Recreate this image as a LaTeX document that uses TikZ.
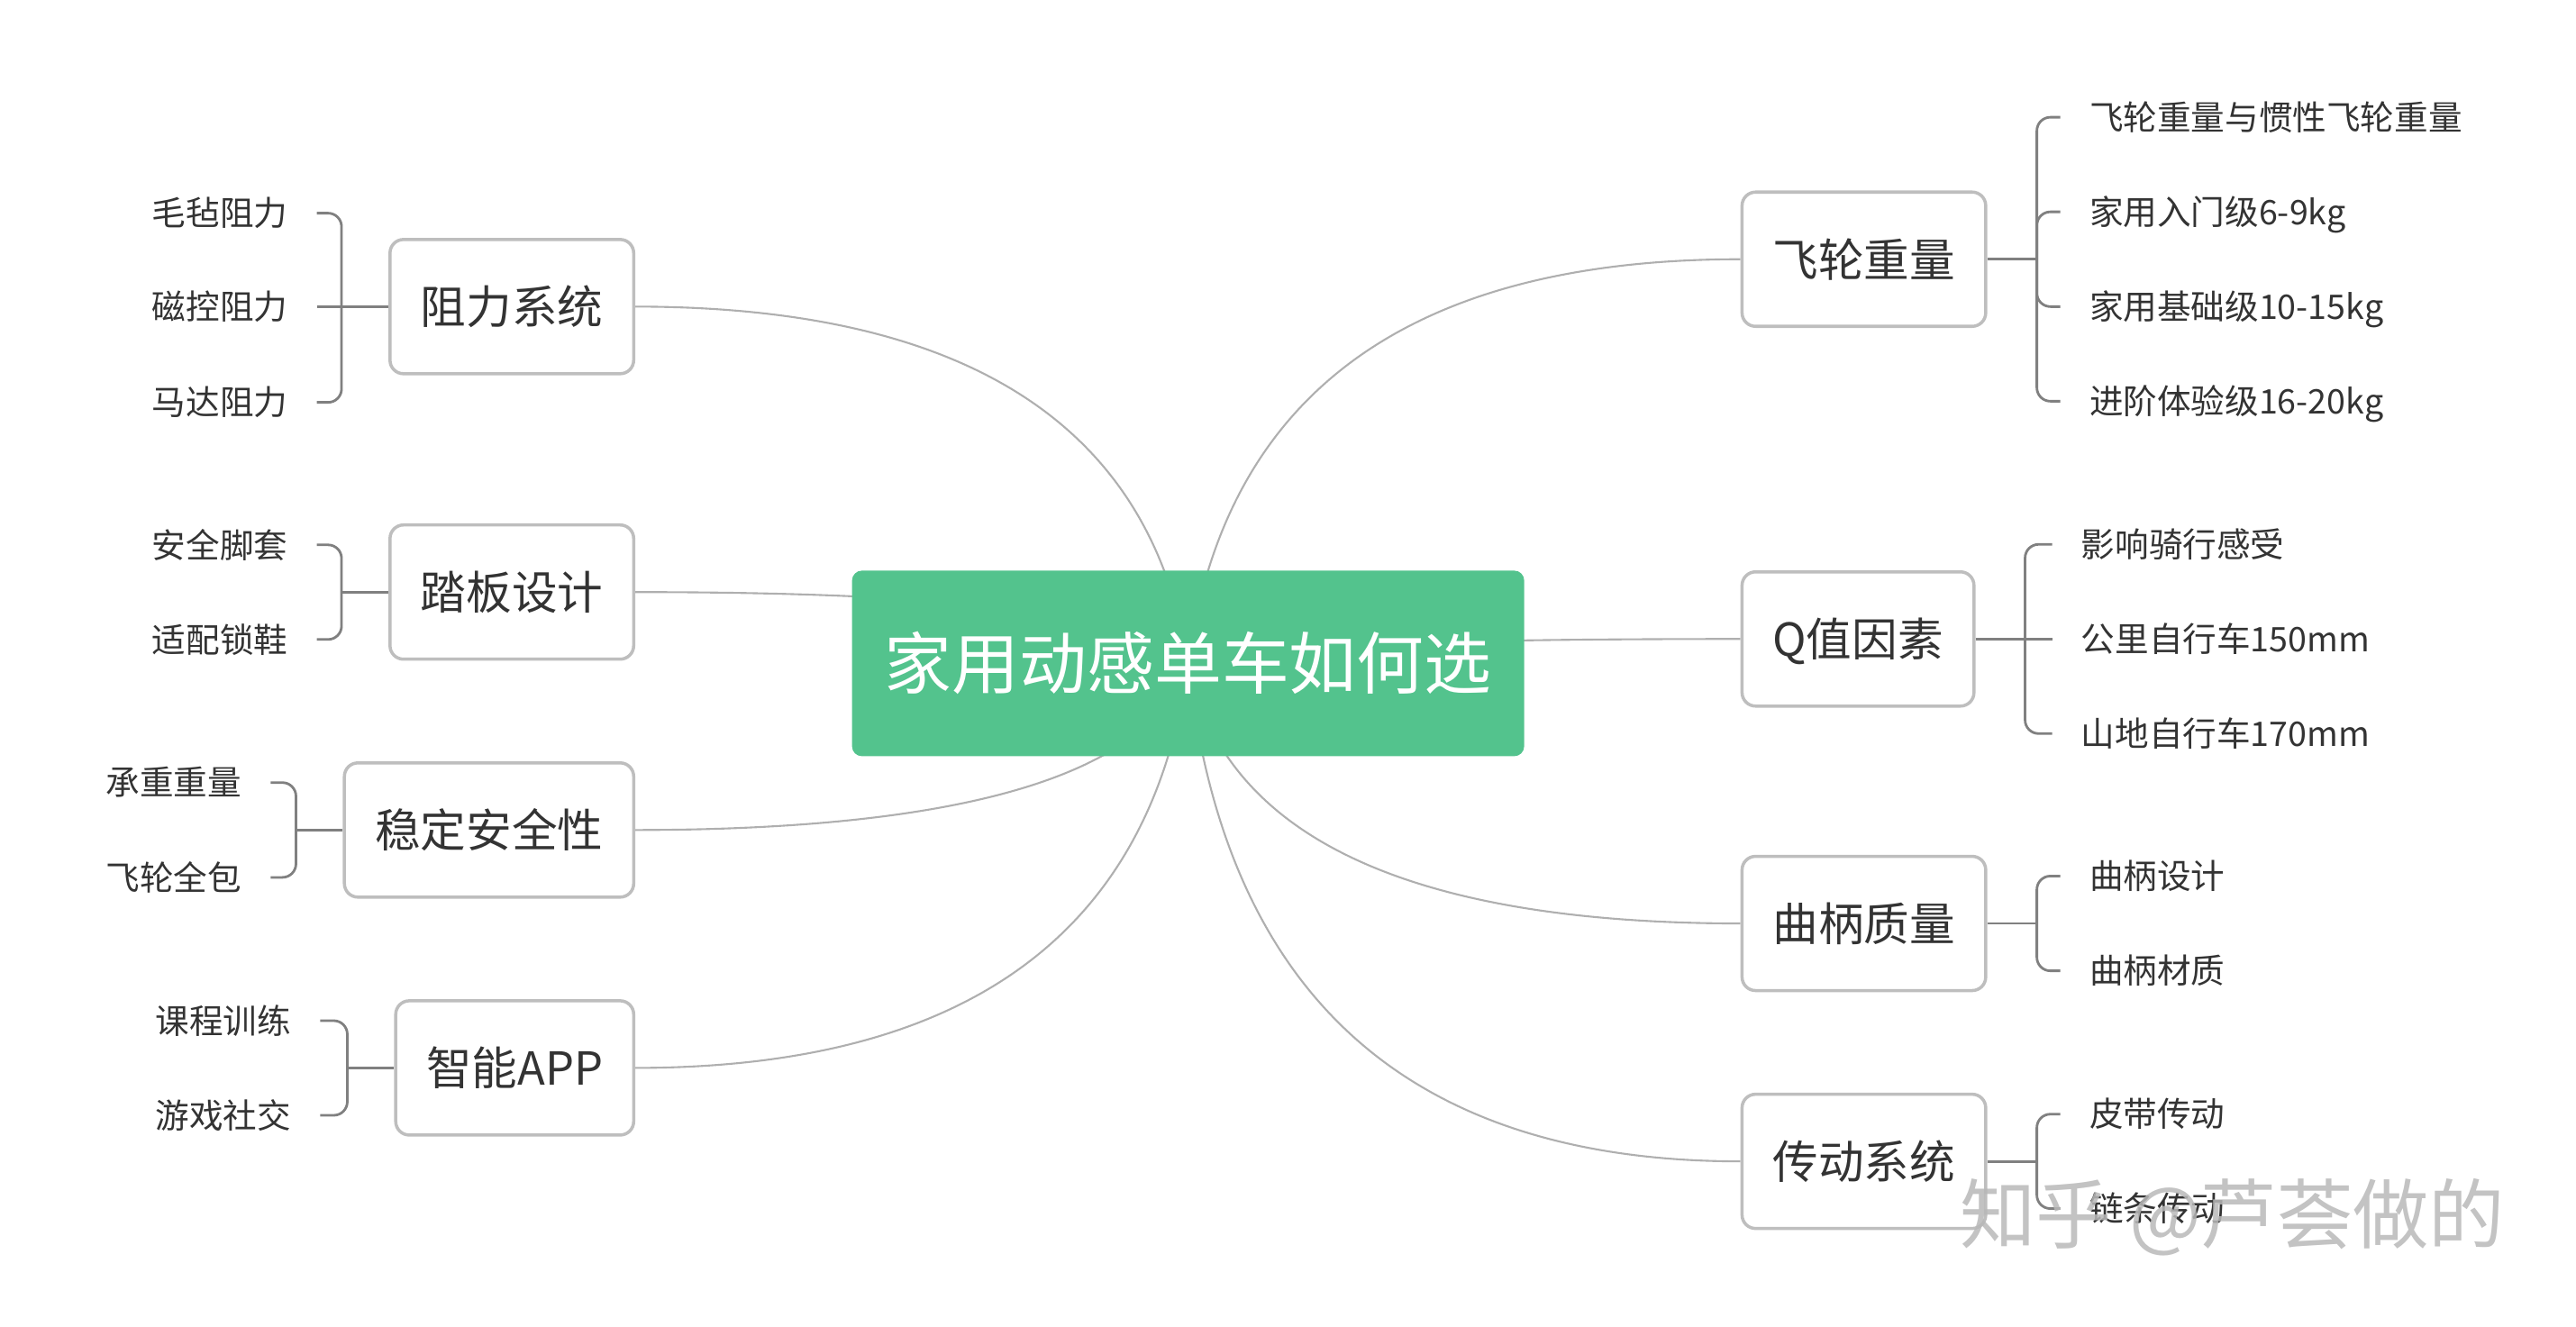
\documentclass[tikz,border=0pt]{standalone}
\usepackage{fontspec}
\setmainfont{Noto Sans CJK SC}
\usetikzlibrary{calc,backgrounds}
\definecolor{hubgreen}{RGB}{83,195,141}
\definecolor{boxgray}{RGB}{190,190,190}
\definecolor{linkgray}{RGB}{175,175,175}
\definecolor{bracegray}{RGB}{128,128,128}
\definecolor{textgray}{RGB}{51,51,51}
\tikzset{
  hub/.style={fill=hubgreen, rounded corners=1.1mm, text=white,
    font=\fontsize{21.3}{24}\selectfont, text height=18.7pt, text depth=2.6pt,
    minimum width=74.6mm, minimum height=20.6mm},
  topic/.style={draw=boxgray, line width=1pt, rounded corners=1.5mm, fill=white,
    text=textgray, font=\fontsize{14.4}{17}\selectfont, text height=12.7pt,
    text depth=1.7pt, minimum height=14.9mm, inner xsep=3.4mm},
  leaf/.style={inner sep=0pt, text=textgray, font=\fontsize{10.7}{13}\selectfont,
    text height=9.4pt, text depth=1.3pt},
  limb/.style={draw=linkgray, line width=0.6pt},
  brace/.style={draw=bracegray, line width=0.8pt, rounded corners=1.5mm},
  stamp/.style={text=black!28, opacity=0.85, font=\fontsize{24}{28}\selectfont},
}
\begin{document}
\begin{tikzpicture}[x=0.18327mm, y=-0.18327mm]
  \useasboundingbox (0,0) rectangle (1560,803.7);
  % root
  \node[hub] (hub) at (719.5,401.8) {家用动感单车如何选};
  % main topics, left
  \node[topic, anchor=east] (zuli) at (384.7,185.7) {阻力系统};
  \node[topic, anchor=east] (taban) at (384.7,358.6) {踏板设计};
  \node[topic, anchor=east] (wending) at (384.7,502.7) {稳定安全性};
  \node[topic, anchor=east] (app) at (384.7,646.8) {智能APP};
  % main topics, right
  \node[topic, anchor=west] (feilun) at (1054,157) {飞轮重量};
  \node[topic, anchor=west] (qzhi) at (1054,387) {Q值因素};
  \node[topic, anchor=west] (qubing) at (1054,559.3) {曲柄质量};
  \node[topic, anchor=west] (chuandong) at (1054,703.4) {传动系统};
  % links to root
  \begin{scope}[on background layer]
    \draw[limb] (zuli.east) .. controls +(201,0) and +(-22,-144) .. (hub.center);
    \draw[limb] (taban.east) .. controls +(201,0) and +(-22,-29) .. (hub.center);
    \draw[limb] (wending.east) .. controls +(201,0) and +(-22,67) .. (hub.center);
    \draw[limb] (app.east) .. controls +(201,0) and +(-22,163) .. (hub.center);
    \draw[limb] (feilun.west) .. controls +(-201,0) and +(22,-163) .. (hub.center);
    \draw[limb] (qzhi.west) .. controls +(-201,0) and +(22,-10) .. (hub.center);
    \draw[limb] (qubing.west) .. controls +(-201,0) and +(22,105) .. (hub.center);
    \draw[limb] (chuandong.west) .. controls +(-201,0) and +(22,201) .. (hub.center);
  \end{scope}
  % leaves, left
  \node[leaf, anchor=east] (zl1) at (174.6,129.1) {毛毡阻力};
  \node[leaf, anchor=east] (zl2) at (174.6,185.7) {磁控阻力};
  \node[leaf, anchor=east] (zl3) at (174.6,243.7) {马达阻力};
  \node[leaf, anchor=east] (tb1) at (174.6,330) {安全脚套};
  \node[leaf, anchor=east] (tb2) at (174.6,387.3) {适配锁鞋};
  \node[leaf, anchor=east] (wd1) at (146.6,474) {承重重量};
  \node[leaf, anchor=east] (wd2) at (146.6,531.4) {飞轮全包};
  \node[leaf, anchor=east] (ap1) at (176.6,618.2) {课程训练};
  \node[leaf, anchor=east] (ap2) at (176.6,675.5) {游戏社交};
  % leaves, right
  \node[leaf, anchor=west] (fl1) at (1265,71) {飞轮重量与惯性飞轮重量};
  \node[leaf, anchor=west] (fl2) at (1265,128.3) {家用入门级6-9kg};
  \node[leaf, anchor=west] (fl3) at (1265,185.7) {家用基础级10-15kg};
  \node[leaf, anchor=west] (fl4) at (1265,243) {进阶体验级16-20kg};
  \node[leaf, anchor=west] (qz1) at (1260,329.7) {影响骑行感受};
  \node[leaf, anchor=west] (qz2) at (1260,387) {公里自行车150mm};
  \node[leaf, anchor=west] (qz3) at (1260,444.3) {山地自行车170mm};
  \node[leaf, anchor=west] (qb1) at (1265,530.6) {曲柄设计};
  \node[leaf, anchor=west] (qb2) at (1265,588) {曲柄材质};
  \node[leaf, anchor=west] (cd1) at (1265,674.8) {皮带传动};
  \node[leaf, anchor=west] (cd2) at (1265,732) {链条传动};
  % brackets, left
  \coordinate (zulij) at ([xshift=-5.2mm]zuli.west);
  \draw[brace] ([xshift=3.17mm]zl1.east) -| (zulij) |- ([xshift=3.17mm]zl3.east);
  \draw[brace] ([xshift=3.17mm]zl2.east) -- (zuli.west);
  \coordinate (tabanj) at ([xshift=-5.2mm]taban.west);
  \draw[brace] ([xshift=3.17mm]tb1.east) -| (tabanj) |- ([xshift=3.17mm]tb2.east);
  \draw[brace] (tabanj) -- (taban.west);
  \coordinate (wendingj) at ([xshift=-5.2mm]wending.west);
  \draw[brace] ([xshift=3.17mm]wd1.east) -| (wendingj) |- ([xshift=3.17mm]wd2.east);
  \draw[brace] (wendingj) -- (wending.west);
  \coordinate (appj) at ([xshift=-5.2mm]app.west);
  \draw[brace] ([xshift=3.17mm]ap1.east) -| (appj) |- ([xshift=3.17mm]ap2.east);
  \draw[brace] (appj) -- (app.west);
  % brackets, right
  \coordinate (feilunj) at ([xshift=5.5mm]feilun.east);
  \draw[brace] ([xshift=-3.17mm]fl1.west) -| (feilunj) |- ([xshift=-3.17mm]fl4.west);
  \draw[brace] ([xshift=-3.17mm]fl2.west) -| (feilunj);
  \draw[brace] ([xshift=-3.17mm]fl3.west) -| (feilunj);
  \draw[brace] (feilun.east) -- (feilunj);
  \coordinate (qzhij) at ([xshift=5.5mm]qzhi.east);
  \draw[brace] ([xshift=-3.17mm]qz1.west) -| (qzhij) |- ([xshift=-3.17mm]qz3.west);
  \draw[brace] (qzhi.east) -- ([xshift=-3.17mm]qz2.west);
  \coordinate (qubingj) at ([xshift=5.5mm]qubing.east);
  \draw[brace] ([xshift=-3.17mm]qb1.west) -| (qubingj) |- ([xshift=-3.17mm]qb2.west);
  \draw[brace] (qubing.east) -- (qubingj);
  \coordinate (chuandongj) at ([xshift=5.5mm]chuandong.east);
  \draw[brace] ([xshift=-3.17mm]cd1.west) -| (chuandongj) |- ([xshift=-3.17mm]cd2.west);
  \draw[brace] (chuandong.east) -- (chuandongj);
  % watermark
  \node[stamp] (zhihu) at (1352,737) {知乎 @芦荟做的};
\end{tikzpicture}
\end{document}
